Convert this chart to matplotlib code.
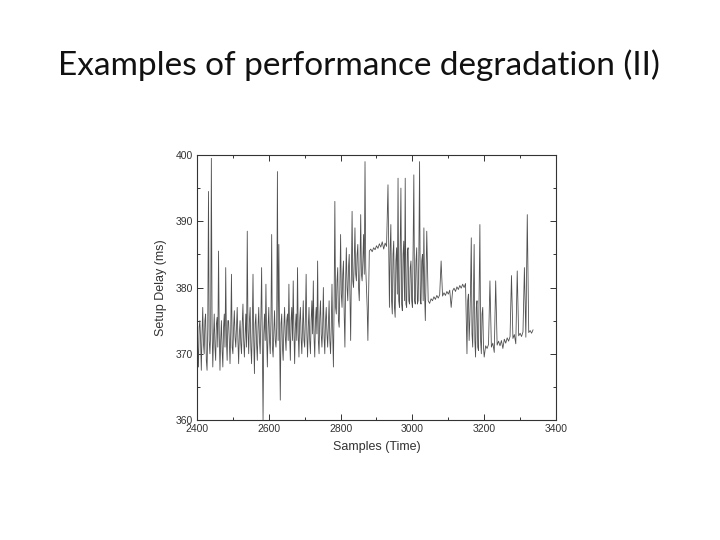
import numpy as np
import matplotlib
matplotlib.use("Agg")
import matplotlib.pyplot as plt
from matplotlib.ticker import MultipleLocator

title = "Examples of performance degradation (II)"
x_label = "Samples (Time)"
y_label = "Setup Delay (ms)"
x_ticks = [2400, 2600, 2800, 3000, 3200, 3400]
y_ticks = [360, 370, 380, 390, 400]

# noisy baseline, samples 2400-2778 (every 2nd sample)
seg_noisy = [382, 371, 368, 374, 375, 372, 367.5, 373, 377, 371.5, 370, 375, 376, 369,
             367.5, 374, 394.5, 372, 370, 373, 399.5, 374, 368, 372.5, 376, 371, 369,
             374.5, 375.5, 371, 385.5, 373, 367.5, 372, 375, 370.5, 368, 374, 376, 371,
             383, 372, 369, 375, 375, 372, 368.5, 373.5, 382, 371, 370, 374, 376.5,
             372.5, 371, 374, 377, 372, 368.5, 373, 375, 371.5, 370, 374.5, 377.5, 372,
             369.5, 373, 376, 371, 388.5, 373.5, 370, 375, 377, 371, 368.5, 374, 382,
             372, 367, 374.5, 376, 371.5, 369, 374, 377, 372, 370, 375.5, 383, 371,
             360, 373, 376, 372, 380.5, 372.5, 368, 374, 377, 372, 370, 375, 388, 371,
             369.5, 373.5, 376.5, 372, 371, 374, 397.5, 372, 386.5, 373, 363, 374.5,
             376, 371, 369, 374, 377, 372.5, 370.5, 375, 376, 372, 380.5, 373, 369, 375,
             377, 372, 381, 373.5, 368.5, 374, 376, 372, 383, 373, 369.5, 375, 377,
             372.5, 370, 374, 378, 372, 371, 375.5, 382, 373, 369.5, 374, 377, 372, 370,
             375, 378, 373, 381, 372.5, 369.5, 375, 377, 373, 384, 372, 370, 375.5, 378,
             373, 371, 374, 380, 372.5, 370, 375, 377, 373, 371, 374.5, 378, 372, 370,
             374, 380.5, 373]
# rising region, samples 2780-2876
seg_rise = [368, 378, 393, 377, 376, 381, 383, 375, 374, 380, 388, 379, 377, 382, 384,
            376, 371, 381, 386, 380, 378, 383, 385, 379, 372, 382, 391.5, 381, 380, 384,
            389, 382, 381, 385, 386.5, 380, 378, 383, 391, 382, 381, 384, 388, 382, 399,
            383, 380, 377, 372]
# calm high plateau, samples 2880-2932 (every 4th sample)
seg_plateau = [385.5, 385.8, 385.4, 386.0, 385.7, 386.3, 385.9, 386.6, 386.1,
               386.9, 385.8, 386.7, 386.2, 395.5]
# jumping region, samples 2936-3040
seg_jump1 = [377, 386, 389.5, 378, 376, 385, 387, 377, 375.5, 384, 386, 379, 396.5, 378,
             377, 386, 395, 377.5, 376.5, 385, 387, 378, 396.5, 377.5, 377, 385.5, 386,
             378, 377.5, 383, 384, 378, 377, 386, 397, 378, 377.5, 384, 386, 377.5, 378,
             385, 399, 378, 377.5, 384, 385, 378, 389, 379, 375, 382, 388.5]
# calm middle level, samples 3044-3148 (every 4th sample)
seg_mid = [378.0, 377.6, 378.3, 378.0, 378.6, 378.2, 378.8, 378.4, 378.9, 384,
           378.7, 379.2, 378.8, 379.4, 379.0, 379.6, 377, 379.5, 379.9, 379.4,
           380.1, 379.7, 380.3, 379.9, 380.5, 380.0, 380.6]
# jumping region, samples 3152-3200
seg_jump2 = [370, 378, 379, 372, 375, 380, 387.5, 373, 371, 379, 386.5, 372, 369.5,
             377, 378, 371, 370.5, 380, 389.5, 372, 370, 376, 377, 371, 369.5]
# calm low level, samples 3204-3336 (every 4th sample)
seg_low = [371.2, 370.8, 371.4, 381, 371.0, 371.6, 370.2, 381, 371.3, 371.9,
           371.2, 372.0, 370.8, 372.2, 371.6, 372.4, 371.9, 372.6, 381.8, 372.3,
           372.9, 371.5, 382.5, 372.7, 373.1, 372.6, 373.3, 383, 372.5, 391,
           373.2, 373.5, 373.1, 373.6]

# (first sample, sample spacing) of each segment
seg_starts = [2400, 2780, 2880, 2936, 3044, 3152, 3204]
seg_steps = [2, 2, 4, 2, 4, 2, 4]
segments = [seg_noisy, seg_rise, seg_plateau, seg_jump1, seg_mid, seg_jump2, seg_low]

samples = np.concatenate([s0 + st * np.arange(len(v))
                          for s0, st, v in zip(seg_starts, seg_steps, segments)])
delay = np.concatenate([np.asarray(v, float) for v in segments])

fig = plt.figure(figsize=(7.2, 5.4), dpi=100)
fig.patch.set_facecolor("white")

fig.text(0.499, 0.861, title, ha="center", va="baseline",
         fontsize=24, family=["Lato", "DejaVu Sans"], color="#111111")

ax = fig.add_axes([197 / 720, 1 - 420 / 540, (556 - 197) / 720, (420 - 155) / 540])
ax.plot(samples, delay, color="#505050", lw=0.6)

ax.set_xlim(2400, 3400)
ax.set_ylim(360, 400)
ax.set_xticks(x_ticks)
ax.set_yticks(y_ticks)
ax.xaxis.set_minor_locator(MultipleLocator(100))
ax.yaxis.set_minor_locator(MultipleLocator(5))
ax.tick_params(which="both", direction="in", top=True, right=True,
               labelsize=7.5, labelcolor="#333333", color="#333333", width=0.7)
ax.tick_params(which="major", length=4, pad=3)
ax.tick_params(which="minor", length=2.5)
for lab in ax.get_xticklabels() + ax.get_yticklabels():
    lab.set_family(["Liberation Sans", "DejaVu Sans"])
for sp in ax.spines.values():
    sp.set_color("#333333")
    sp.set_linewidth(0.8)

ax.set_xlabel(x_label, fontsize=9, color="#333333",
              family=["Liberation Sans", "DejaVu Sans"], labelpad=5)
ax.set_ylabel(y_label, fontsize=9, color="#333333",
              family=["Liberation Sans", "DejaVu Sans"], labelpad=6)

fig.savefig("out.png", dpi=100, facecolor="white")
